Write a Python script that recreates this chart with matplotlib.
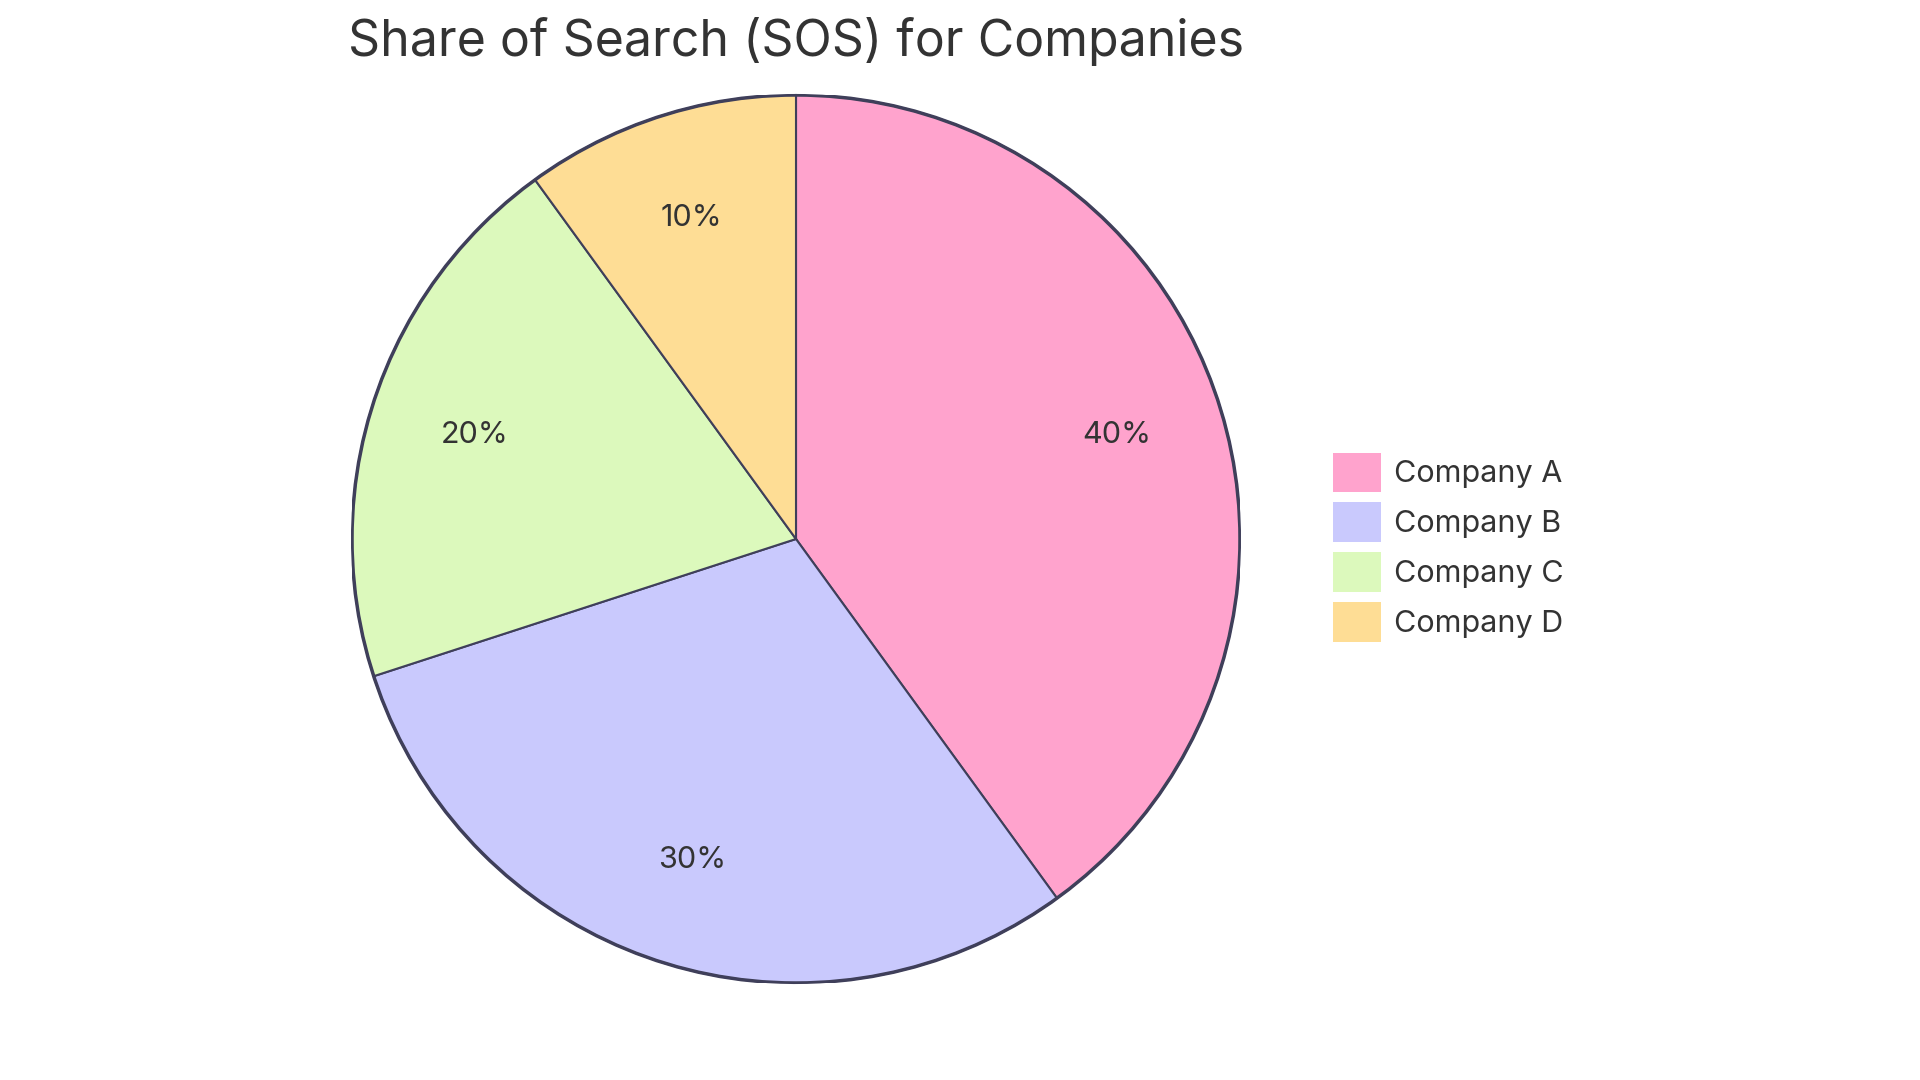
import matplotlib.pyplot as plt

labels = ['Company A', 'Company B', 'Company C', 'Company D']
values = [40, 30, 20, 10]
colors = ['#FFA3CD', '#C9C9FD', '#DCF9BC', '#FEDD95']

plt.rcParams['font.family'] = ['Inter', 'DejaVu Sans']

fig = plt.figure(figsize=(19.2, 10.8), dpi=100)
# axes placed so the pie centre sits near (796, 539) with radius ~444 px
r = 444
cx, cy = 796, 1080 - 539
ax = fig.add_axes([(cx - r) / 1920, (cy - r) / 1080, 2 * r / 1920, 2 * r / 1080])
wedges, texts, autotexts = ax.pie(
    values, colors=colors, startangle=90, counterclock=False,
    autopct='%1.0f%%', pctdistance=0.76,
    wedgeprops=dict(edgecolor='#3F3F5A', linewidth=1.5),
    textprops=dict(fontsize=22, color='#333333'))
ax.set_xlim(-1.0, 1.0)
ax.set_ylim(-1.0, 1.0)
# outer border a bit thicker
circle = plt.Circle((0, 0), 1.0, fill=False, edgecolor='#3F3F5A', linewidth=2.5)
ax.add_patch(circle)

fig.text(796 / 1920, 1 - 42 / 1080, 'Share of Search (SOS) for Companies',
         ha='center', va='center', fontsize=36, color='#333333')

fig.legend(wedges, labels, loc='upper left',
           bbox_to_anchor=(1305 / 1920, 1 - 425 / 1080),
           frameon=False, fontsize=22, handlelength=1.6, handleheight=1.6,
           labelspacing=0.35, handletextpad=0.4, labelcolor='#333333')
for h in fig.legends[0].legend_handles:
    h.set_edgecolor('none')

fig.savefig('out.png', dpi=100)
